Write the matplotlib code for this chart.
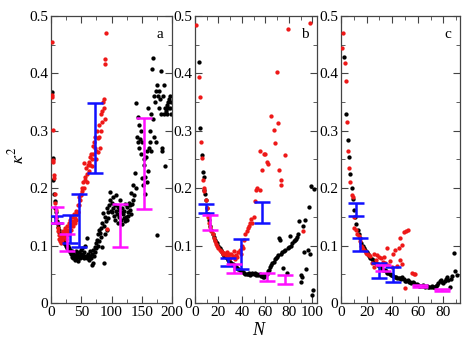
import matplotlib
matplotlib.use('Agg')
import matplotlib.pyplot as plt
from matplotlib.ticker import MultipleLocator

plt.rcParams['font.family'] = ['Liberation Serif', 'DejaVu Serif']
plt.rcParams['mathtext.fontset'] = 'stix'

# ---- panel a ----
a_black_x = [2, 3, 4, 5, 6, 7, 8, 9, 10, 11, 12, 13, 14, 15, 16, 17, 18, 19, 20, 21, 22, 23, 24, 25,
             26, 27, 28, 29, 30, 31, 32, 33, 34, 35, 36, 37, 38, 39, 40, 41, 42, 43, 44, 45, 46, 47, 48, 49,
             50, 51, 52, 53, 54, 55, 56, 57, 58, 59, 60, 61, 62, 63, 64, 65, 66, 67, 68, 69, 70, 71, 72, 73,
             74, 75, 76, 77, 78, 79, 80, 81, 82, 83, 84, 85, 86, 87, 88, 89, 90, 91, 92, 93, 94, 95, 96, 97,
             98, 99, 100, 101, 102, 103, 104, 105, 106, 107, 108, 109, 110, 111, 112, 113, 114, 115, 116, 117,
             118, 119, 120, 121, 122, 123, 124, 125, 126, 127, 128, 129, 130, 131, 132, 133, 134, 135, 136, 137,
             139, 140, 141, 142, 143, 144, 145, 146, 147, 148, 149, 150, 151, 152, 153, 154, 155, 156, 157, 158,
             159, 160, 161, 162, 163, 164, 165, 166, 167, 168, 169, 170, 171, 172, 173, 174, 175, 176, 177, 178,
             179, 180, 181, 182, 183, 184, 185, 186, 187, 188, 189, 190, 191, 192, 193, 194, 195, 196, 197, 198, 199]
a_black_y = [0.368, 0.252, 0.214, 0.19, 0.178, 0.165, 0.158, 0.15, 0.142, 0.138, 0.133, 0.127, 0.124, 0.12,
             0.118, 0.115, 0.112, 0.11, 0.108, 0.106, 0.104, 0.102, 0.1, 0.103,
             0.098, 0.095, 0.1, 0.092, 0.096, 0.088, 0.093, 0.085, 0.09, 0.08, 0.087, 0.078, 0.083, 0.075,
             0.082, 0.09, 0.077, 0.085, 0.074, 0.08, 0.088, 0.082, 0.078, 0.092, 0.085, 0.08, 0.095, 0.083,
             0.078, 0.088, 0.08, 0.1, 0.082, 0.113, 0.078, 0.086, 0.08, 0.075, 0.09, 0.082, 0.079, 0.066,
             0.085, 0.07, 0.092, 0.082, 0.098, 0.088, 0.105, 0.095, 0.11, 0.1, 0.12, 0.108, 0.127, 0.122,
             0.115, 0.13, 0.14, 0.098, 0.156, 0.07, 0.135, 0.12, 0.15, 0.142, 0.165, 0.128, 0.158, 0.148,
             0.17, 0.194, 0.18, 0.16, 0.175, 0.158, 0.185, 0.165, 0.152, 0.17, 0.145, 0.16, 0.188, 0.155,
             0.168, 0.14, 0.162, 0.15, 0.18, 0.158, 0.145, 0.165, 0.138, 0.155, 0.148, 0.16, 0.142, 0.172,
             0.15, 0.168, 0.145, 0.158, 0.152, 0.175, 0.162, 0.17, 0.155, 0.191, 0.172, 0.18, 0.206, 0.188,
             0.227, 0.2, 0.348, 0.29, 0.28, 0.324, 0.31, 0.27, 0.285, 0.26, 0.3, 0.218, 0.28, 0.206, 0.24,
             0.25, 0.19, 0.22, 0.255, 0.264, 0.211, 0.23, 0.34, 0.27, 0.28, 0.3, 0.265, 0.33, 0.407, 0.32,
             0.427, 0.36, 0.29, 0.35, 0.37, 0.28, 0.119, 0.38, 0.36, 0.34, 0.37, 0.355, 0.404, 0.33, 0.265,
             0.27, 0.36, 0.38, 0.33, 0.34, 0.239, 0.335, 0.33, 0.345, 0.35, 0.34, 0.355, 0.36, 0.34, 0.35, 0.33]
a_red_x = [1, 2, 2, 3, 4, 4, 5, 5, 6, 7, 8, 9, 10, 11, 12, 13, 14, 15, 16, 17, 18, 19, 20, 21, 22, 23,
           24, 25, 26, 27, 28, 29, 30, 31, 32, 33, 34, 35, 36, 37, 38, 39, 40, 41, 42, 43, 44, 45, 46, 47,
           48, 49, 50, 51, 52, 53, 54, 55, 56, 57, 58, 59, 60, 61, 62, 63, 64, 65, 66, 67, 68, 69, 70, 71,
           72, 73, 74, 75, 76, 77, 78, 79, 80, 81, 82, 83, 84, 85, 86, 87, 88, 89, 89, 89, 91, 93]
a_red_y = [0.454, 0.363, 0.359, 0.301, 0.249, 0.245, 0.223, 0.217, 0.19, 0.175, 0.162, 0.15, 0.14, 0.13,
           0.125, 0.118, 0.112, 0.108, 0.115, 0.105, 0.12, 0.11, 0.125, 0.115, 0.12, 0.13, 0.112, 0.125,
           0.135, 0.118, 0.128, 0.14, 0.122, 0.132, 0.145, 0.127, 0.138, 0.15, 0.135, 0.142, 0.155, 0.14,
           0.148, 0.16, 0.145, 0.155, 0.17, 0.158, 0.17, 0.185, 0.18, 0.19, 0.188, 0.2, 0.195, 0.21, 0.2,
           0.244, 0.215, 0.22, 0.235, 0.21, 0.225, 0.24, 0.23, 0.245, 0.24, 0.255, 0.26, 0.238, 0.25,
           0.26, 0.273, 0.28, 0.27, 0.29, 0.25, 0.265, 0.3, 0.288, 0.263, 0.31, 0.29, 0.27, 0.33, 0.3, 0.335,
           0.315, 0.35, 0.356, 0.34, 0.32, 0.425, 0.417, 0.471, 0.129]
a_blue_x = [7, 31, 47, 73]
a_blue_lo = [0.140, 0.105, 0.098, 0.227]
a_blue_hi = [0.152, 0.153, 0.190, 0.349]
a_mag_x = [8, 27, 114, 154]
a_mag_lo = [0.140, 0.090, 0.098, 0.163]
a_mag_hi = [0.168, 0.120, 0.173, 0.322]

# ---- panel b ----
b_black_x = [3, 4.5, 6, 7, 7.5, 8, 8.5, 9, 10, 11, 12, 13, 14, 15, 16, 17, 18, 19, 20, 21, 22, 23, 24, 25,
             26, 27, 28, 29, 30, 31, 32, 33, 34, 35, 36, 37, 38, 39, 40, 41, 42, 43, 44, 45, 46, 47, 48, 49,
             50, 51, 52, 53, 54, 55, 56, 57, 58, 59, 60, 61, 62, 63, 64, 65, 66, 67, 68, 69, 70, 71, 72, 72.5,
             73, 74, 75, 76, 77, 78, 79, 80, 81, 82, 83, 84, 85, 86, 87, 88, 89, 90, 90.5, 91, 92, 93, 94, 95,
             96, 97, 98, 99, 100, 101, 101.5]
b_black_y = [0.419, 0.305, 0.258, 0.228, 0.22, 0.197, 0.19, 0.18, 0.165, 0.155, 0.145, 0.135, 0.128, 0.12,
             0.115, 0.11, 0.106, 0.104, 0.1, 0.095, 0.092, 0.088, 0.085, 0.082, 0.08, 0.078, 0.075, 0.073,
             0.072, 0.07, 0.068, 0.066, 0.064, 0.063, 0.061, 0.06, 0.058, 0.057, 0.056, 0.054, 0.053, 0.051,
             0.05, 0.05, 0.052, 0.049, 0.051, 0.053, 0.05, 0.052, 0.049, 0.051, 0.048, 0.05, 0.047, 0.049,
             0.046, 0.045, 0.048, 0.05, 0.055, 0.058, 0.062, 0.066, 0.07, 0.072, 0.076, 0.078, 0.08, 0.083,
             0.113, 0.11, 0.086, 0.088, 0.061, 0.09, 0.092, 0.053, 0.095, 0.097, 0.116, 0.1, 0.104, 0.108,
             0.11, 0.112, 0.115, 0.12, 0.142, 0.049, 0.037, 0.045, 0.135, 0.088, 0.145, 0.06, 0.092, 0.167,
             0.085, 0.203, 0.014, 0.023, 0.198]
b_red_x = [1, 3, 4.4, 4.7, 6, 6.6, 7.5, 8, 9, 10, 11, 12, 13, 14, 15, 16, 17, 18, 19, 20, 21, 22, 23, 24,
           25, 26, 27, 28, 29, 30, 31, 32, 33, 34, 35, 36, 37, 38, 39, 40, 41, 42, 43, 44, 45, 46, 47, 48,
           49, 50, 51, 52, 52.5, 55, 55.5, 57.5, 59, 60, 61, 62, 64.4, 67.3, 68, 69.6, 70.5, 72, 73, 73.5,
           76.7, 79.5, 92, 98]
b_red_y = [0.485, 0.393, 0.359, 0.28, 0.252, 0.214, 0.2, 0.195, 0.18, 0.165, 0.15, 0.14, 0.132, 0.125,
           0.12, 0.113, 0.108, 0.103, 0.1, 0.096, 0.092, 0.09, 0.088, 0.085, 0.087, 0.083, 0.088, 0.08,
           0.085, 0.078, 0.086, 0.082, 0.09, 0.077, 0.084, 0.08, 0.088, 0.092, 0.085, 0.1, 0.095, 0.11,
           0.12, 0.125, 0.13, 0.135, 0.139, 0.147, 0.14, 0.15, 0.177, 0.196, 0.2, 0.264, 0.197, 0.232,
           0.26, 0.26, 0.245, 0.243, 0.325, 0.301, 0.278, 0.402, 0.313, 0.232, 0.214, 0.206, 0.258, 0.477,
           0.126, 0.487]
b_blue_x = [9, 28, 39, 57]
b_blue_lo = [0.157, 0.064, 0.060, 0.139]
b_blue_hi = [0.172, 0.078, 0.111, 0.176]
b_mag_x = [12.7, 33, 61, 76.7]
b_mag_lo = [0.127, 0.053, 0.038, 0.033]
b_mag_hi = [0.153, 0.068, 0.052, 0.049]

# ---- panel c ----
c_black_x = [2, 4.1, 5.3, 6.5, 7.3, 8.6, 9.4, 10, 11, 12, 13.4, 14, 15, 16, 17, 18, 19, 20, 21, 22, 23, 24,
             25, 26, 27, 28, 29, 30, 31, 32, 33, 34, 35, 36, 37, 38, 39, 40, 41, 42, 43, 44, 45, 46, 47, 48,
             49, 50, 51, 52, 53, 54, 55, 56, 57, 58, 59, 60, 61, 62, 63, 64, 65, 66, 67, 68, 69, 70, 71, 72,
             73, 74, 75, 76, 77, 78, 79, 80, 81, 82, 83, 84, 85, 86, 87, 88.5, 89, 90.5]
c_black_y = [0.429, 0.329, 0.284, 0.254, 0.225, 0.2, 0.182, 0.162, 0.15, 0.138, 0.127, 0.12, 0.113, 0.105,
             0.1, 0.096, 0.092, 0.088, 0.085, 0.082, 0.079, 0.077, 0.075, 0.072, 0.07, 0.068, 0.066, 0.064,
             0.062, 0.06, 0.058, 0.057, 0.055, 0.053, 0.052, 0.05, 0.049, 0.048, 0.047, 0.045, 0.046, 0.044,
             0.043, 0.044, 0.042, 0.046, 0.041, 0.039, 0.038, 0.04, 0.036, 0.037, 0.035, 0.036, 0.034, 0.032,
             0.033, 0.031, 0.03, 0.03, 0.029, 0.031, 0.029, 0.028, 0.029, 0.028, 0.027, 0.028, 0.029, 0.027,
             0.028, 0.03, 0.032, 0.035, 0.038, 0.04, 0.036, 0.035, 0.038, 0.042, 0.045, 0.04, 0.028, 0.041,
             0.047, 0.087, 0.055, 0.049]
c_red_x = [0.8, 1.5, 2.8, 3.9, 4.9, 5.5, 6.6, 7.3, 8.6, 9, 10, 10.5, 11.5, 12.5, 13.7, 14.5, 15.5, 16.5,
           17.5, 18.5, 19.5, 20.5, 21.5, 23, 24, 25.5, 26, 27, 28, 29, 30, 31.5, 32.5, 33.5, 34.6, 36, 37,
           38.5, 39.8, 41, 42.4, 43.5, 45, 46.3, 46.3, 47.6, 48, 49, 50, 51, 52, 55.5, 57, 58]
c_red_y = [0.444, 0.471, 0.418, 0.387, 0.316, 0.265, 0.236, 0.21, 0.188, 0.184, 0.15, 0.13, 0.128, 0.12,
           0.116, 0.108, 0.1, 0.098, 0.094, 0.09, 0.087, 0.085, 0.083, 0.081, 0.07, 0.063, 0.085, 0.075,
           0.084, 0.068, 0.08, 0.078, 0.072, 0.08, 0.069, 0.095, 0.066, 0.074, 0.063, 0.085, 0.092, 0.065,
           0.096, 0.113, 0.075, 0.101, 0.068, 0.124, 0.026, 0.125, 0.127, 0.052, 0.051, 0.05]
c_blue_x = [11.5, 15, 29.4, 40.6]
c_blue_lo = [0.151, 0.091, 0.043, 0.037]
c_blue_hi = [0.174, 0.113, 0.069, 0.062]
c_mag_x = [33, 62, 78.7]
c_mag_lo = [0.055, 0.027, 0.021]
c_mag_hi = [0.066, 0.031, 0.025]

panels = [
    ('a', [0.1076, 0.1243, 0.2553, 0.8295], (0, 200), 50, 25,
     a_black_x, a_black_y, a_red_x, a_red_y, a_blue_x, a_blue_lo, a_blue_hi, a_mag_x, a_mag_lo, a_mag_hi),
    ('b', [0.4114, 0.1243, 0.2574, 0.8295], (0, 104), 20, 10,
     b_black_x, b_black_y, b_red_x, b_red_y, b_blue_x, b_blue_lo, b_blue_hi, b_mag_x, b_mag_lo, b_mag_hi),
    ('c', [0.7194, 0.1243, 0.2511, 0.8295], (0, 93), 20, 10,
     c_black_x, c_black_y, c_red_x, c_red_y, c_blue_x, c_blue_lo, c_blue_hi, c_mag_x, c_mag_lo, c_mag_hi),
]

fig = plt.figure(figsize=(4.74, 3.46), dpi=100)

for (lab, rect, xlim, xmaj, xmin, bx, by, rx, ry,
     blx, bllo, blhi, mx, mlo, mhi) in panels:
    ax = fig.add_axes(rect)
    ax.plot(bx, by, 'o', color='black', ms=3.1, mew=0, zorder=2)
    ax.plot(rx, ry, 'o', color='#ee1818', ms=3.1, mew=0, zorder=3)
    for xs, lo, hi, col in ((blx, bllo, blhi, '#1010ff'), (mx, mlo, mhi, '#ff10ff')):
        mid = [(l + h) / 2 for l, h in zip(lo, hi)]
        err = [(h - l) / 2 for l, h in zip(lo, hi)]
        ax.errorbar(xs, mid, yerr=err, fmt='none', ecolor=col, elinewidth=1.8,
                    capsize=5.5, capthick=1.8, zorder=4)
    ax.set_xlim(*xlim)
    ax.set_ylim(0, 0.5)
    ax.xaxis.set_major_locator(MultipleLocator(xmaj))
    ax.xaxis.set_minor_locator(MultipleLocator(xmin))
    ax.yaxis.set_major_locator(MultipleLocator(0.1))
    ax.yaxis.set_minor_locator(MultipleLocator(0.05))
    ax.set_yticks([0, 0.1, 0.2, 0.3, 0.4, 0.5])
    ax.set_yticklabels(['0', '0.1', '0.2', '0.3', '0.4', '0.5'])
    ax.tick_params(which='both', direction='in', top=True, right=True, labelsize=11,
                   color='#444444', pad=2)
    ax.tick_params(which='major', length=5)
    ax.tick_params(which='minor', length=3)
    for s in ax.spines.values():
        s.set_color('#444444')
        s.set_linewidth(0.9)
    ax.text(0.9, 0.935, lab, transform=ax.transAxes, fontsize=11, ha='center', va='center')

fig.text(0.036, 0.552, r'$\kappa^2$', rotation=90, fontsize=13, ha='center', va='center')
fig.text(0.544, 0.046, 'N', fontsize=13, style='italic', ha='center', va='center')

fig.savefig('out.png', dpi=100)
